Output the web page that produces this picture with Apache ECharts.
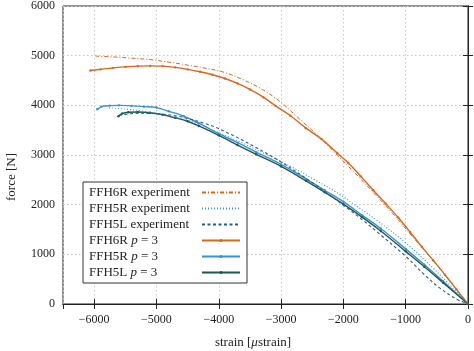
<!DOCTYPE html>
<html>
<head>
<meta charset="utf-8">
<script src="https://cdn.jsdelivr.net/npm/echarts@6/dist/echarts.min.js"></script>
<style>
  html, body { margin: 0; padding: 0; background: #fff; }
  #chart { width: 474px; height: 351px; }
</style>
</head>
<body>
<div id="chart"></div>
<script>
// values (strain in µstrain, force in N)
const seriesNames = ['FFH6R experiment', 'FFH5R experiment', 'FFH5L experiment', 'FFH6R p = 3', 'FFH5R p = 3', 'FFH5L p = 3']

const ffh6rExpStrain = [-5980, -5700, -5400, -5100, -4800, -4500, -4200, -3900, -3600, -3300, -3000, -2700, -2400, -2100, -1800, -1500, -1200, -900, -600, -300, 0]
const ffh6rExpForce = [4990, 4975, 4950, 4920, 4870, 4810, 4745, 4660, 4510, 4320, 4060, 3720, 3380, 3000, 2620, 2220, 1810, 1370, 940, 480, 0]

const ffh5rExpStrain = [-5760, -5500, -5200, -5000, -4700, -4400, -4000, -3600, -3200, -2800, -2500, -2100, -1800, -1500, -1000, -500, 0]
const ffh5rExpForce = [3950, 3925, 3880, 3830, 3760, 3660, 3450, 3230, 2990, 2740, 2530, 2240, 1980, 1720, 1230, 650, 0]

const ffh5lExpStrain = [-5600, -5300, -5000, -4700, -4450, -4250, -4050, -3900, -3700, -3400, -3000, -2600, -2300, -2000, -1700, -1400, -1000, -700, -450, -200, 0]
const ffh5lExpForce = [3800, 3840, 3830, 3790, 3720, 3645, 3560, 3470, 3350, 3150, 2860, 2530, 2265, 1990, 1700, 1390, 960, 590, 320, 110, 0]

const ffh6rFemStrain = [-6060, -5900, -5700, -5500, -5300, -5100, -4900, -4700, -4500, -4300, -4100, -3900, -3700, -3500, -3280, -3090, -2850, -2600, -2350, -2100, -1920, -1720, -1520, -1320, -1120, -930, -740, -560, -370, -190, 0]
const ffh6rFemForce = [4700, 4725, 4755, 4775, 4790, 4795, 4790, 4765, 4725, 4675, 4615, 4540, 4440, 4320, 4160, 3990, 3790, 3540, 3320, 3040, 2840, 2570, 2290, 2020, 1740, 1450, 1150, 880, 590, 300, 0]

const ffh5rFemStrain = [-5950, -5880, -5750, -5600, -5400, -5200, -5000, -4800, -4560, -4320, -4000, -3700, -3400, -3000, -2600, -2300, -2000, -1700, -1400, -1000, -700, -400, 0]
const ffh5rFemForce = [3920, 3975, 3995, 4000, 3990, 3975, 3955, 3880, 3780, 3640, 3430, 3250, 3060, 2810, 2520, 2290, 2060, 1790, 1520, 1110, 790, 460, 0]

const ffh5lFemStrain = [-5610, -5550, -5450, -5300, -5100, -4900, -4700, -4500, -4320, -4000, -3700, -3400, -3000, -2600, -2300, -2000, -1700, -1400, -1000, -700, -400, 0]
const ffh5lFemForce = [3780, 3835, 3860, 3865, 3850, 3810, 3750, 3680, 3585, 3395, 3200, 3015, 2770, 2480, 2250, 2010, 1750, 1470, 1060, 750, 430, 0]

const xTicks = [-6000, -5000, -4000, -3000, -2000, -1000, 0]
const yTicks = [0, 1000, 2000, 3000, 4000, 5000, 6000]

const orange = '#d8671f'
const blue = '#3a90da'
const green = '#1d5a4b'
const darkDash = '#2a5d7e'

const FONT = '"Liberation Serif", "DejaVu Serif", serif'
const LEGEND_TEXT_W = 108

function zip(xs, ys) {
  return xs.map((x, i) => [x, ys[i]])
}

function minus(v) {
  return v < 0 ? '\u2212' + Math.abs(v) : String(v)
}

// measure legend text so the line samples sit in one column
const ctx = document.createElement('canvas').getContext('2d')
function textWidth(s, italic) {
  ctx.font = (italic ? 'italic ' : '') + '13px ' + FONT
  return ctx.measureText(s).width
}

function legendParts(name) {
  const m = name.match(/^(\S+) p = 3$/)
  if (m) return [[m[1] + ' ', false], ['p', true], [' = 3', false]]
  return [[name, false]]
}

const legendRich = {
  n: { fontFamily: FONT, fontSize: 13, color: '#222' },
  i: { fontFamily: FONT, fontSize: 13, color: '#222', fontStyle: 'italic' }
}
seriesNames.forEach((name, k) => {
  const w = legendParts(name).reduce((acc, p) => acc + textWidth(p[0], p[1]), 0)
  legendRich['s' + k] = { width: Math.max(0, LEGEND_TEXT_W - w), fontSize: 13 }
})

let myChart = echarts.init(document.getElementById('chart'))

const expLine = (name, xs, ys, color, type, width) => ({
  name: name,
  type: 'line',
  data: zip(xs, ys),
  smooth: 0.35,
  symbol: 'none',
  lineStyle: { color: color, width: width, type: type },
  itemStyle: { color: color },
  z: 3
})

const femLine = (name, xs, ys, color) => ({
  name: name,
  type: 'line',
  data: zip(xs, ys),
  smooth: 0.35,
  symbol: 'circle',
  symbolSize: 2.4,
  showSymbol: true,
  lineStyle: { color: color, width: 1.4 },
  itemStyle: { color: color },
  z: 2
})

const axisCommon = {
  axisLine: { show: true, lineStyle: { color: '#222', width: 1 } },
  axisTick: { show: true, inside: true, length: 5, lineStyle: { color: '#222' } }
}

// experiment entries: line only, no dot in the legend
const legendData = seriesNames.map((n, i) => i < 3 ? { name: n, itemStyle: { opacity: 0 } } : { name: n })

myChart.setOption({
  animation: false,
  backgroundColor: '#fff',
  grid: {
    left: 63, right: 4, top: 4, bottom: 47,
    show: true, borderColor: '#222', borderWidth: 1
  },
  xAxis: [{
    type: 'value',
    min: -6500,
    max: 0,
    splitNumber: 7,
    position: 'bottom',
    ...axisCommon,
    axisLabel: {
      showMinLabel: false,
      margin: 10,
      fontFamily: FONT, fontSize: 12, color: '#222',
      formatter: v => xTicks.indexOf(v) >= 0 ? minus(v) : ''
    },
    splitLine: { show: true, lineStyle: { color: '#c8c8c8', type: [1.5, 2.5], width: 1 } }
  }, {
    type: 'value',
    min: -6500,
    max: 0,
    splitNumber: 7,
    position: 'top',
    ...axisCommon,
    axisLabel: { show: false },
    splitLine: { show: false }
  }],
  yAxis: [{
    type: 'value',
    min: 0,
    max: 6000,
    interval: 1000,
    position: 'left',
    ...axisCommon,
    axisLabel: {
      margin: 8,
      fontFamily: FONT, fontSize: 12, color: '#222',
      formatter: v => yTicks.indexOf(v) >= 0 ? String(v) : ''
    },
    splitLine: { show: true, lineStyle: { color: '#c8c8c8', type: [1.5, 2.5], width: 1 } }
  }, {
    type: 'value',
    min: 0,
    max: 6000,
    interval: 1000,
    position: 'right',
    ...axisCommon,
    axisLabel: { show: false },
    splitLine: { show: false }
  }],
  legend: {
    orient: 'vertical',
    left: 83,
    top: 182,
    align: 'right',
    data: legendData,
    backgroundColor: '#fff',
    borderColor: '#333',
    borderWidth: 1,
    borderRadius: 0,
    padding: [4, 6, 4, 6],
    itemGap: 3,
    itemWidth: 38,
    itemHeight: 4,
    textStyle: {
      fontFamily: FONT, fontSize: 13, color: '#222',
      rich: legendRich
    },
    formatter: name => {
      const k = seriesNames.indexOf(name)
      const body = legendParts(name).map(p => '{' + (p[1] ? 'i' : 'n') + '|' + p[0] + '}').join('')
      return body + '{s' + k + '|}'
    }
  },
  graphic: [{
    type: 'text',
    x: 253, y: 343,
    style: {
      text: '{n|strain [}{i|\u03bc}{n|strain]}',
      align: 'center', verticalAlign: 'middle',
      rich: {
        n: { fontFamily: FONT, fontSize: 13, fill: '#222' },
        i: { fontFamily: FONT, fontSize: 13, fill: '#222', fontStyle: 'italic' }
      }
    }
  }, {
    type: 'text',
    x: 12, y: 177,
    rotation: Math.PI / 2,
    style: {
      text: 'force [N]',
      align: 'center', verticalAlign: 'middle',
      fontFamily: FONT, fontSize: 13, fill: '#222'
    }
  }],
  series: [
    expLine(seriesNames[0], ffh6rExpStrain, ffh6rExpForce, orange, [4, 2, 1, 2], 1),
    expLine(seriesNames[1], ffh5rExpStrain, ffh5rExpForce, blue, [1, 2], 1.1),
    expLine(seriesNames[2], ffh5lExpStrain, ffh5lExpForce, darkDash, [3, 2.5], 1.1),
    femLine(seriesNames[3], ffh6rFemStrain, ffh6rFemForce, orange),
    femLine(seriesNames[4], ffh5rFemStrain, ffh5rFemForce, blue),
    femLine(seriesNames[5], ffh5lFemStrain, ffh5lFemForce, green)
  ]
})
</script>
</body>
</html>
